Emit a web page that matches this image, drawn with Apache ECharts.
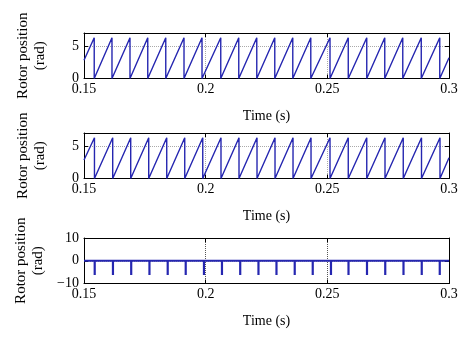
<!DOCTYPE html>
<html><head><meta charset="utf-8">
<script src="https://cdn.jsdelivr.net/npm/echarts@6/dist/echarts.min.js"></script>
<style>html,body{margin:0;padding:0;background:#fff}#c{width:474px;height:343px}</style>
</head><body><div id="c"></div>
<script>
// ---- data ----
const xTickLabels = ['0.15', '0.2', '0.25', '0.3'];
const yTicksSaw = [0, 5];
const yTicksErr = [-10, 0, 10];
// panel 1: measured rotor position (sawtooth wrap-around times, s)
const dropTimes1 = [0.1542, 0.1615, 0.1689, 0.1762, 0.1836, 0.1911, 0.1985, 0.2062, 0.2136, 0.2210,
                    0.2284, 0.2358, 0.2432, 0.2511, 0.2586, 0.2662, 0.2736, 0.2810, 0.2886, 0.2962];
const sawPeak1 = 6.28, sawStart1 = 2.8, sawEnd1 = 3.2;
// panel 2: estimated rotor position
const dropTimes2 = [0.1543, 0.1618, 0.1692, 0.1766, 0.1840, 0.1914, 0.1988, 0.2063, 0.2137, 0.2211,
                    0.2285, 0.2359, 0.2433, 0.2511, 0.2586, 0.2662, 0.2737, 0.2812, 0.2887, 0.2963];
const sawPeak2 = 6.28, sawStart2 = 2.85, sawEnd2 = 3.2;
// panel 3: position error spikes
const spikeTimes3 = [0.1544, 0.1619, 0.1694, 0.1769, 0.1844, 0.1918, 0.1993, 0.2067, 0.2142, 0.2217,
                     0.2291, 0.2366, 0.2440, 0.2515, 0.2587, 0.2663, 0.2738, 0.2813, 0.2888, 0.2962];
const spikeDepth3 = -6.3;

// ---- build series data ----
function saw(drops, start, peak, end) {
  const d = [[0.15, start]];
  drops.forEach(t => { d.push([t, peak]); d.push([t, 0]); });
  d.push([0.3, end]);
  return d;
}
function spikes(times, depth) {
  const d = [[0.15, 0]];
  times.forEach(t => { d.push([t, 0]); d.push([t, depth]); d.push([t, 0]); });
  d.push([0.3, 0]);
  return d;
}

const FONT = 'Liberation Serif';
const LINE = '#2526b0';
const tickFmt = v => { const s = String(+v.toFixed(2)); return xTickLabels.includes(s) ? s : ''; };

function xAx(gi, main, gridCol) {
  return {
    type: 'value', gridIndex: gi, position: main ? 'bottom' : 'top',
    min: 0.15, max: 0.3, interval: 0.05,
    axisLine: { show: true, onZero: false, lineStyle: { color: '#000', width: 1 } },
    axisTick: { show: true, inside: true, length: 4, lineStyle: { color: '#000' } },
    axisLabel: { show: main, formatter: tickFmt, color: '#000', fontFamily: FONT, fontSize: 14, margin: 4 },
    splitLine: { show: main, lineStyle: { type: 'dotted', color: gridCol, width: 1 } },
    name: main ? 'Time (s)' : '', nameLocation: 'middle', nameGap: 31,
    nameTextStyle: { color: '#000', fontFamily: FONT, fontSize: 14 }
  };
}
function yAx(gi, main, min, max, interval, ticks) {
  return {
    type: 'value', gridIndex: gi, position: main ? 'left' : 'right',
    min: min, max: max, interval: interval,
    axisLine: { show: true, onZero: false, lineStyle: { color: '#000', width: 1 } },
    axisTick: { show: true, inside: true, length: 4, lineStyle: { color: '#000' } },
    axisLabel: { show: main, color: '#000', fontFamily: FONT, fontSize: 14, margin: 5,
      formatter: v => ticks.includes(v) ? String(v).replace('-', '\u2212') : '' },
    splitLine: { show: main, lineStyle: { type: 'dotted', color: '#aaa', width: 1 } },
    name: main ? 'Rotor position\n(rad)' : '', nameLocation: 'middle', nameGap: 35,
    nameTextStyle: { color: '#000', fontFamily: FONT, fontSize: 15, lineHeight: 17, align: 'center' }
  };
}

const grids = [
  { left: 84, right: 25, top: 33, height: 45.5 },
  { left: 84, right: 25, top: 133, height: 45.5 },
  { left: 84, right: 25, top: 238, height: 45.5 }
];

const option = {
  animation: false,
  backgroundColor: '#fff',
  grid: grids,
  xAxis: [
    xAx(0, true, '#aaa'), xAx(0, false, '#aaa'),
    xAx(1, true, '#aaa'), xAx(1, false, '#aaa'),
    xAx(2, true, '#555'), xAx(2, false, '#555')
  ],
  yAxis: [
    yAx(0, true, 0, 7, 5, yTicksSaw), yAx(0, false, 0, 7, 5, yTicksSaw),
    yAx(1, true, 0, 7, 5, yTicksSaw), yAx(1, false, 0, 7, 5, yTicksSaw),
    yAx(2, true, -10, 10, 10, yTicksErr), yAx(2, false, -10, 10, 10, yTicksErr)
  ],
  series: [
    { type: 'line', xAxisIndex: 0, yAxisIndex: 0, data: saw(dropTimes1, sawStart1, sawPeak1, sawEnd1),
      showSymbol: false, lineStyle: { color: LINE, width: 1.4 } },
    { type: 'line', xAxisIndex: 2, yAxisIndex: 2, data: saw(dropTimes2, sawStart2, sawPeak2, sawEnd2),
      showSymbol: false, lineStyle: { color: LINE, width: 1.4 } },
    { type: 'line', xAxisIndex: 4, yAxisIndex: 4, data: spikes(spikeTimes3, spikeDepth3),
      showSymbol: false, lineStyle: { color: LINE, width: 2.2 } }
  ]
};

const chart = echarts.init(document.getElementById('c'), null, { renderer: 'canvas' });
chart.setOption(option);
</script>
</body></html>
